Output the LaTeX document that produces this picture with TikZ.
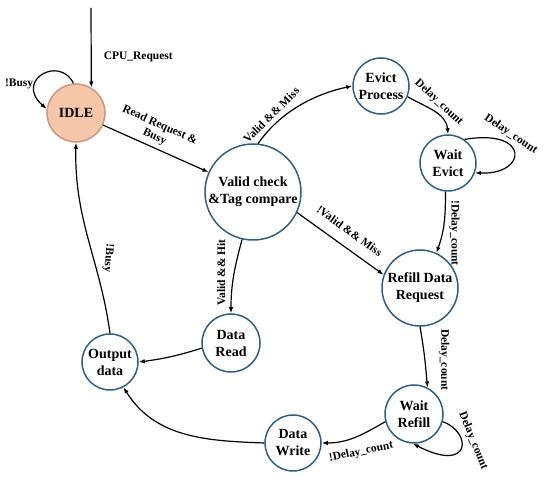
\documentclass[tikz,border=0pt]{standalone}
\usepackage{fontspec}
\setmainfont{Liberation Serif}
\usepackage{tikz}
\usetikzlibrary{arrows.meta, calc, positioning}
\usepackage{xcolor}
\definecolor{StBlue}{HTML}{2E5F8A}
\definecolor{IdleFill}{HTML}{F6C6A8}
\definecolor{IdleLine}{HTML}{C49A84}
\tikzstyle{state} = [circle, draw=StBlue, line width=1.5pt, fill=white, inner sep=0pt,
align=center, font=\fontsize{14}{17}\selectfont\bfseries]
\tikzstyle{trans} = [-{Latex[length=6pt,width=4.5pt]}, line width=1.2pt, black]
\tikzstyle{lbl} = [font=\fontsize{11.5}{13}\selectfont\bfseries, inner sep=2pt, align=center]

\begin{document}
\begin{tikzpicture}[x=1pt,y=-1pt]
   \useasboundingbox (0,0) rectangle (550,494);
   \node[state,fill=IdleFill,draw=IdleLine,minimum size=58pt] (idle) at (76,113) {IDLE};
   \node[state,minimum size=96pt] (valid) at (253,192) {Valid check\\\&Tag compare};
   \node[state,minimum size=56pt] (evict) at (381,86) {Evict\\Process};
   \node[state,minimum size=56pt] (waitevict) at (448,163) {Wait\\Evict};
   \node[state,minimum size=76pt] (refill) at (420,288) {Refill Data\\Request};
   \node[state,minimum size=58pt] (waitrefill) at (414,414) {Wait\\Refill};
   \node[state,minimum size=56pt] (datawrite) at (293,443) {Data\\Write};
   \node[state,minimum size=58pt] (dataread) at (231,343) {Data\\Read};
   \node[state,minimum size=56pt] (output) at (110,362) {Output\\data};
   \coordinate (cpu) at (91,8);

   \draw[trans] (cpu) -- (idle.59)
      node[lbl,pos=0.62,right=10pt] {CPU\_Request};
   \draw[trans] (idle.95) .. controls (60,55) and (14,80) .. (idle.172)
      node[lbl,pos=0.68,left=0pt] {!Busy};
   \draw[trans] (idle) -- (valid)
      node[lbl,pos=0.45,sloped,above=2pt] {Read Request \&\\Busy};
   \draw[trans] (valid.84) to[out=55,in=192,looseness=0.9]
      node[lbl,pos=0.26,rotate=45,anchor=south,outer sep=3pt] {Valid \&\& Miss} (evict.west);
   \draw[trans] (evict.-22) to[out=-30,in=95]
      node[lbl,pos=0.45,rotate=-43,anchor=south,outer sep=3pt] {Delay\_count} (waitevict.north);
   \draw[trans] (waitevict.55) .. controls (530,128) and (528,175) .. (waitevict.-20)
      node[lbl,pos=0.3,rotate=-34,anchor=south,outer sep=2pt] {Delay\_count};
   \draw[trans] (waitevict.265) to[out=-90,in=70]
      node[lbl,pos=0.68,rotate=-90,anchor=south,outer sep=5pt] {!Delay\_count} (refill.65);
   \draw[trans] (valid.-25) -- (refill.160)
      node[lbl,pos=0.5,sloped,above=9pt] {!Valid \&\& Miss};
   \draw[trans] (valid.257) to[out=-105,in=90]
      node[lbl,pos=0.45,rotate=90,anchor=south,outer sep=7pt] {Valid \&\& Hit} (dataread.north);
   \draw[trans] (dataread.190) to[bend left=5] (output.east);
   \draw[trans] (refill.south) to[out=-80,in=95]
      node[lbl,pos=0.55,rotate=-90,anchor=south,outer sep=12pt] {Delay\_count} (waitrefill.63);
   \draw[trans] (waitrefill.-15) .. controls (472,432) and (472,474) .. (waitrefill.-92)
      node[lbl,pos=0.45,rotate=-68,anchor=south,outer sep=5pt] {Delay\_count};
   \draw[trans] (waitrefill.195) to[out=210,in=0]
      node[lbl,pos=0.42,rotate=12,below=9pt] {!Delay\_count} (datawrite.east);
   \draw[trans] (datawrite.west) to[out=178,in=-58] (output.-62);
   \draw[trans] (output.north) .. controls (100,260) and (74,220) .. (idle.south)
      node[lbl,pos=0.4,rotate=-95,anchor=south,outer sep=8pt] {!Busy};
  \end{tikzpicture}
\end{document}
